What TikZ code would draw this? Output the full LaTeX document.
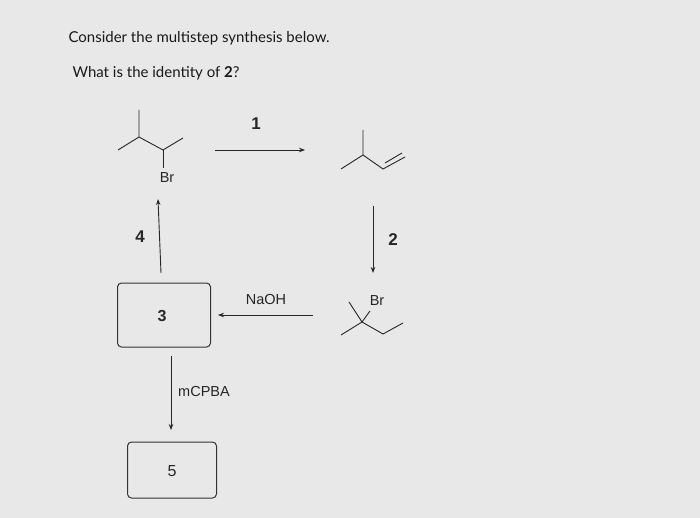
\documentclass[tikz,border=0pt]{standalone}
\usepackage{fontspec}
\usetikzlibrary{arrows.meta}
\setmainfont{Liberation Sans}
\newfontfamily\qfont{Lato}
\begin{document}
\begin{tikzpicture}[x=1pt,y=-1pt,
  bond/.style={line width=0.9pt,draw=black!85},
  rxn/.style={line width=0.9pt,draw=black!85,-{Stealth[length=6pt,width=4.5pt]}},
  lbl/.style={font=\fontsize{14.5}{16}\selectfont,text=black!85},
  num/.style={font=\bfseries\fontsize{17}{19}\selectfont,text=black!85},
  qtext/.style={font=\qfont\fontsize{15}{17}\selectfont,anchor=west,text=black!90},
  box/.style={draw=black!80,line width=1pt,rounded corners=4pt}]
\fill[gray!18] (0,0) rectangle (700,518);
\useasboundingbox (0,0) rectangle (700,518);
\node[qtext] (q1) at (65,38) {Consider the multistep synthesis below.};
\node[qtext] (q2) at (69,73) {What is the identity of \textbf{2}?};
% molecule A
\draw[bond] (139,110) -- (139,137) -- (118,150);
\draw[bond] (139,137) -- (163,150) -- (183,138);
\draw[bond] (163,150) -- (163,168);
\node[lbl] (brA) at (167,178) {Br};
% arrow 1
\coordinate (a1s) at (215,150); \coordinate (a1e) at (305,150);
\draw[rxn] (a1s) -- (a1e);
\node[num] (n1) at (256,124) {1};
% molecule B
\draw[bond] (363,130) -- (363,155) -- (341,169);
\draw[bond] (363,155) -- (383,169) -- (405,157);
\draw[bond] (385,163) -- (402,153);
% arrow 2
\coordinate (a2s) at (373,206); \coordinate (a2e) at (373,273);
\draw[rxn] (a2s) -- (a2e);
\node[num] (n2) at (393,240) {2};
% molecule C
\draw[bond] (349,302) -- (362,322) -- (341,335);
\draw[bond] (362,322) -- (370,311);
\draw[bond] (362,322) -- (383,334) -- (403,323);
\node[lbl] (brC) at (377,301) {Br};
% NaOH arrow
\coordinate (a3s) at (313,315); \coordinate (a3e) at (218,315);
\draw[rxn] (a3s) -- (a3e);
\node[lbl] (naoh) at (266,300) {NaOH};
% box 3
\node[box,minimum width=93pt,minimum height=64pt] (b3) at (164,315) {};
\node[num,font=\bfseries\fontsize{16}{18}\selectfont] (t3) at (162,316) {3};
% arrow 4
\coordinate (a4s) at (161,273); \coordinate (a4e) at (158,199);
\draw[rxn] (a4s) -- (a4e);
\node[num] (n4) at (140,237) {4};
% mCPBA arrow
\coordinate (a5s) at (171,356); \coordinate (a5e) at (171,430);
\draw[rxn] (a5s) -- (a5e);
\node[lbl] (mc) at (204,392) {mCPBA};
% box 5
\node[box,minimum width=89pt,minimum height=56pt] (b5) at (172,470) {};
\node[lbl,font=\fontsize{16}{18}\selectfont] (t5) at (172,471) {5};
\end{tikzpicture}
\end{document}
